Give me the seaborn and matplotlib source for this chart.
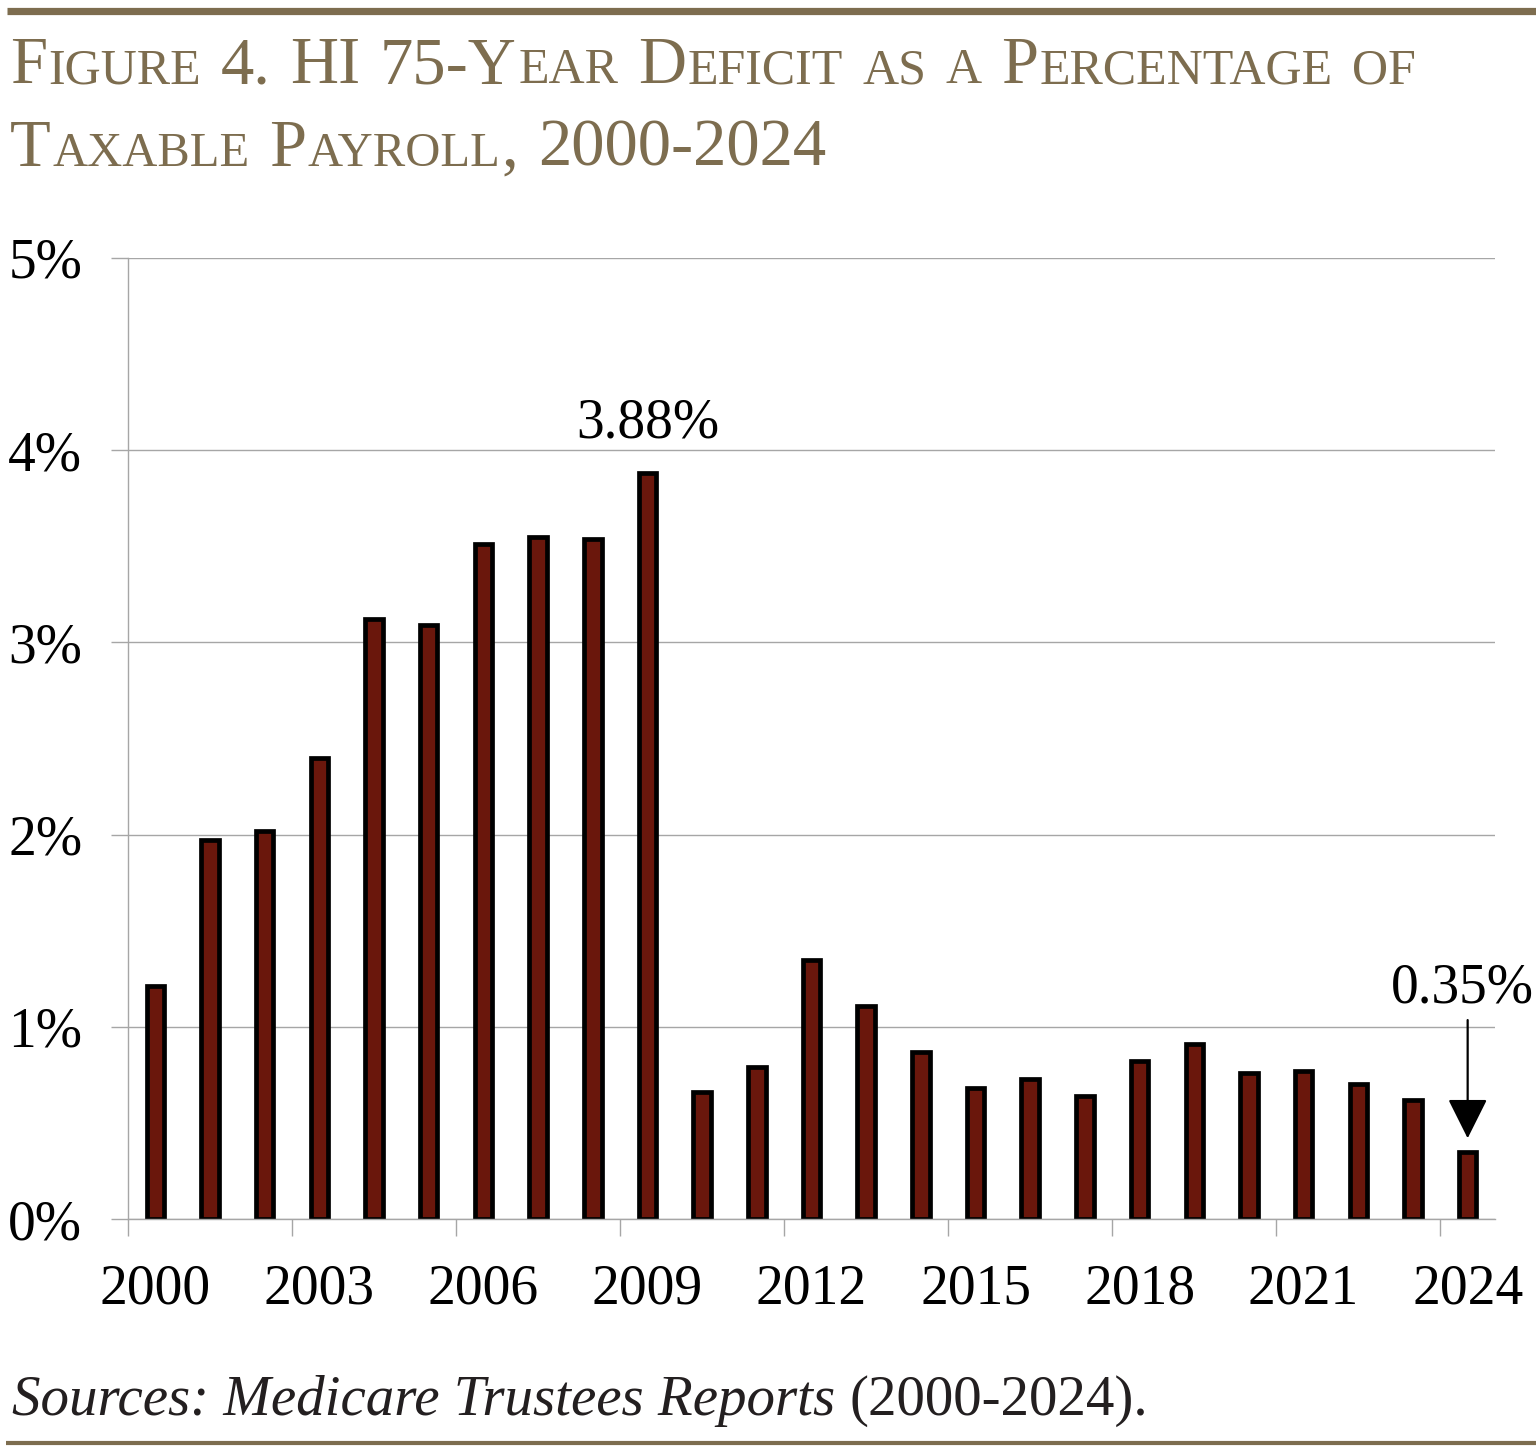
import pandas as pd
import numpy as np
import seaborn as sns
import matplotlib.pyplot as plt
from matplotlib.lines import Line2D

# data
years = [str(y) for y in range(2000, 2025)]
deficit = [1.21, 1.97, 2.02, 2.40, 3.12, 3.09, 3.51, 3.55, 3.54, 3.88,
           0.66, 0.79, 1.35, 1.11, 0.87, 0.68, 0.73, 0.64, 0.82, 0.91,
           0.76, 0.77, 0.70, 0.62, 0.35]
y_ticks = [0, 1, 2, 3, 4, 5]
y_labels = [f"{v}%" for v in y_ticks]
label_years = years[::3]

df = pd.DataFrame({"year": years, "deficit": deficit})

W, H = 1536, 1454
GOLD = "#7d6d4f"
BAR = "#6a170c"
GRID = "#a6a6a6"

sns.set_theme(style="white")
plt.rcParams["font.family"] = ["Liberation Serif", "DejaVu Serif"]

fig = plt.figure(figsize=(W / 100, H / 100), dpi=100)
ax = fig.add_axes([128 / W, 1 - 1219 / H, (1495 - 128) / W, (1219 - 258) / H])

sns.barplot(data=df, x="year", y="deficit", color=BAR, saturation=1,
            width=0.32, edgecolor="black", linewidth=3.4, ax=ax)

ax.set_xlim(-0.5, len(years) - 0.5)
ax.set_ylim(0, 5)
ax.set_xlabel("")
ax.set_ylabel("")

# tick marks between categories, labels under every third bar
ax.set_xticks([i - 0.5 for i in range(0, len(years), 3)], labels=[])
ax.set_xticks(range(0, len(years), 3), labels=label_years, minor=True)
ax.tick_params(axis="x", which="major", length=12, width=1, color=GRID,
               direction="out", bottom=True)
ax.tick_params(axis="x", which="minor", length=0, pad=32, labelsize=40,
               labelcolor="black")

ax.set_yticks(y_ticks, labels=y_labels)
ax.tick_params(axis="y", length=12, width=1, color=GRID, direction="out",
               left=True, pad=21, labelsize=40, labelcolor="black")

ax.grid(axis="y", color=GRID, linewidth=1)
ax.grid(axis="x", visible=False)
ax.set_axisbelow(True)
for side in ["top", "right"]:
    ax.spines[side].set_visible(False)
for side in ["left", "bottom"]:
    ax.spines[side].set_color(GRID)
    ax.spines[side].set_linewidth(1)

# callouts
ax.annotate("3.88%", xy=(9, deficit[9]), xytext=(0, 26),
            textcoords="offset points", ha="center", va="baseline",
            fontsize=40, color="black")
ax.text(23.9, 1.124, "0.35%", ha="center", va="baseline", fontsize=40,
        color="black")
ax.annotate("", xy=(24, 0.42), xytext=(24, 1.035),
            arrowprops=dict(arrowstyle="-|>,head_length=0.5,head_width=0.25",
                            color="black", lw=1.6,
                            mutation_scale=50, shrinkA=0, shrinkB=0))

# title in small caps, built from pieces
renderer = fig.canvas.get_renderer()


def small_caps(x, y, text, big, small, color):
    space = 0.27 * big * fig.dpi / 72
    for word in text.split(" "):
        runs = []
        for ch in word:
            size = small if ch.islower() else big
            if runs and runs[-1][1] == size:
                runs[-1][0] += ch.upper()
            else:
                runs.append([ch.upper(), size])
        for s, size in runs:
            t = fig.text(x / W, 1 - y / H, s, fontsize=size, color=color,
                         va="baseline", ha="left")
            x += t.get_window_extent(renderer).width + 1.5
        x += space


small_caps(10, 83, "Figure 4. HI 75-Year Deficit as a Percentage of", 48, 36, GOLD)
small_caps(10, 166, "Taxable Payroll, 2000-2024", 48, 35, GOLD)

# source note
t = fig.text(12 / W, 1 - 1415 / H, "Sources: Medicare Trustees Reports",
             fontsize=41, style="italic", color="#231f20", va="baseline")
x_end = 12 + t.get_window_extent(renderer).width + 0.25 * 41 * 100 / 72
fig.text(x_end / W, 1 - 1415 / H, "(2000-2024).", fontsize=41,
         color="#231f20", va="baseline")

# rules
fig.add_artist(Line2D([7 / W, 1], [1 - 11 / H] * 2, color=GOLD, lw=5.2,
                      solid_capstyle="butt", transform=fig.transFigure))
fig.add_artist(Line2D([6 / W, 1], [1 - 1443 / H] * 2, color=GOLD, lw=3,
                      solid_capstyle="butt", transform=fig.transFigure))

fig.savefig("out.png", dpi=100)
